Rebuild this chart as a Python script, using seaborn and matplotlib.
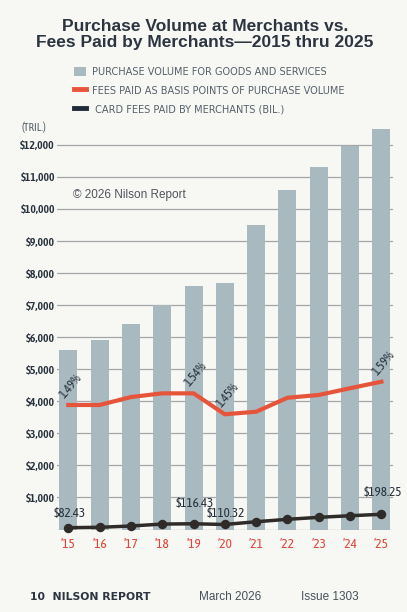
import numpy as np
import pandas as pd
import seaborn as sns
import matplotlib.pyplot as plt
from matplotlib.patches import Patch
from matplotlib.lines import Line2D

years = ["\u201915", "\u201916", "\u201917", "\u201918", "\u201919", "\u201920",
         "\u201921", "\u201922", "\u201923", "\u201924", "\u201925"]
# purchase volume, $ thousands of billions (trillions)
volume = [5.6, 5.9, 6.4, 7.0, 7.6, 7.7, 9.5, 10.6, 11.3, 11.95, 12.5]
# fees as % of purchase volume
fee_pct = [1.49, 1.49, 1.524, 1.54, 1.54, 1.45, 1.461, 1.521, 1.533, 1.562, 1.59]
# card fees paid by merchants, $ billions
fees_bil = [82.43, 86, 97, 114, 116.43, 110.32, 134, 155, 172, 186, 198.25]
pct_labeled = [0, 4, 5, 10]
bil_labeled = [0, 4, 5, 10]
ytick_vals = list(range(0, 13))
ytick_labels = [""] + [f"${v},000" for v in range(1, 13)]

bg = "#f7f7f3"
navy = "#27323d"
bar_c = "#a8b9bf"
red_c = "#e6553b"
blk_c = "#2f2b28"
narrow = ["Asap Condensed", "DejaVu Sans"]
plain = ["Liberation Sans", "DejaVu Sans"]

plt.rcParams["font.family"] = narrow

df = pd.DataFrame({"year": years, "volume": volume})
pos = np.arange(len(years))

fig = plt.figure(figsize=(4.07, 6.12), dpi=100, facecolor=bg)
ax = fig.add_axes([57 / 407, 0.1348, 336 / 407, 0.661])
ax.set_facecolor("none")

sns.barplot(data=df, x="year", y="volume", color=bar_c, width=0.575,
            saturation=1, ax=ax, zorder=2)
ax.set_ylim(0, 12.62)
ax.set_yticks(ytick_vals)
ax.set_yticklabels(ytick_labels, fontsize=8.5, fontweight="semibold", color=navy)
ax.grid(axis="y", color="#a3a7aa", linewidth=0.9, zorder=0)
ax.set_axisbelow(True)
ax.tick_params(axis="y", length=0, pad=1.5)
ax.tick_params(axis="x", length=0, pad=6, labelsize=9.5, labelcolor="#e0473a")
ax.set_xlabel("")
ax.set_ylabel("")
for s in ax.spines.values():
    s.set_visible(False)

# fee percentage on its own hidden scale
ax2 = ax.twinx()
sns.lineplot(x=pos, y=fee_pct, ax=ax2, color=red_c, linewidth=3, zorder=3)
ax2.set_ylim(0.955, 2.693)
for i in pct_labeled:
    ax2.annotate(f"{fee_pct[i]:.2f}%", (pos[i], fee_pct[i]), xytext=(-1, 3),
                 textcoords="offset points", rotation=50, rotation_mode="anchor",
                 ha="left", va="bottom", fontsize=9, color=navy)

# card fees in billions on another hidden scale
ax3 = ax.twinx()
sns.lineplot(x=pos, y=fees_bil, ax=ax3, color=blk_c, linewidth=2.5, marker="o",
             markersize=6.8, markeredgewidth=0, clip_on=False, zorder=4)
ax3.set_ylim(66.9, 3563)
bil_offsets = [10, 14.5, 8, 15.5]
for i, dy in zip(bil_labeled, bil_offsets):
    ax3.annotate(f"${fees_bil[i]:.2f}", (pos[i], fees_bil[i]), xytext=(1, dy),
                 textcoords="offset points", ha="center", va="center",
                 fontsize=9.4, color=navy)

for a in (ax2, ax3):
    a.set_yticks([])
    a.set_ylabel("")
    for s in a.spines.values():
        s.set_visible(False)
ax.set_xlim(-0.36, 10.37)

fig.text(0.503, 0.944, "Purchase Volume at Merchants vs.\nFees Paid by Merchants\u20142015 thru 2025",
         ha="center", va="center", fontsize=12.5, fontweight="bold", color="#2c3540",
         family=plain, linespacing=1.1)

handles = [Patch(facecolor=bar_c, edgecolor="none"),
           Line2D([], [], color=red_c, linewidth=3.5),
           Line2D([], [], color="#1f2b37", linewidth=3.5)]
labels = ["PURCHASE VOLUME FOR GOODS AND SERVICES",
          "FEES PAID AS BASIS POINTS OF PURCHASE VOLUME",
          " CARD FEES PAID BY MERCHANTS (BIL.)"]
fig.legend(handles, labels, loc="upper left", bbox_to_anchor=(64 / 407, 1 - 57 / 612),
           frameon=False, labelcolor="#56616b", handlelength=1.1,
           handleheight=0.95, handletextpad=0.6, labelspacing=0.75,
           prop={"family": "DejaVu Sans", "stretch": "condensed", "size": 7.8})

fig.text(22 / 407, 1 - 127 / 612, "(TRIL.)", ha="left", va="center", fontsize=8,
         color="#56616b")
fig.text(73 / 407, 1 - 195 / 612, "\u00a9 2026 Nilson Report", ha="left", va="center",
         fontsize=8.5, color="#4f565d", family=plain)

fig.text(30 / 407, 1 - 597 / 612, "10  NILSON REPORT", ha="left", va="center",
         fontsize=7.8, fontweight="bold", color="#2c3540", family="DejaVu Sans")
fig.text(199 / 407, 1 - 597 / 612, "March 2026", ha="left", va="center",
         fontsize=8.5, color="#46515b", family=plain)
fig.text(301 / 407, 1 - 597 / 612, "Issue 1303", ha="left", va="center",
         fontsize=8.5, color="#46515b", family=plain)

fig.savefig("out.png", dpi=100, facecolor=bg)
